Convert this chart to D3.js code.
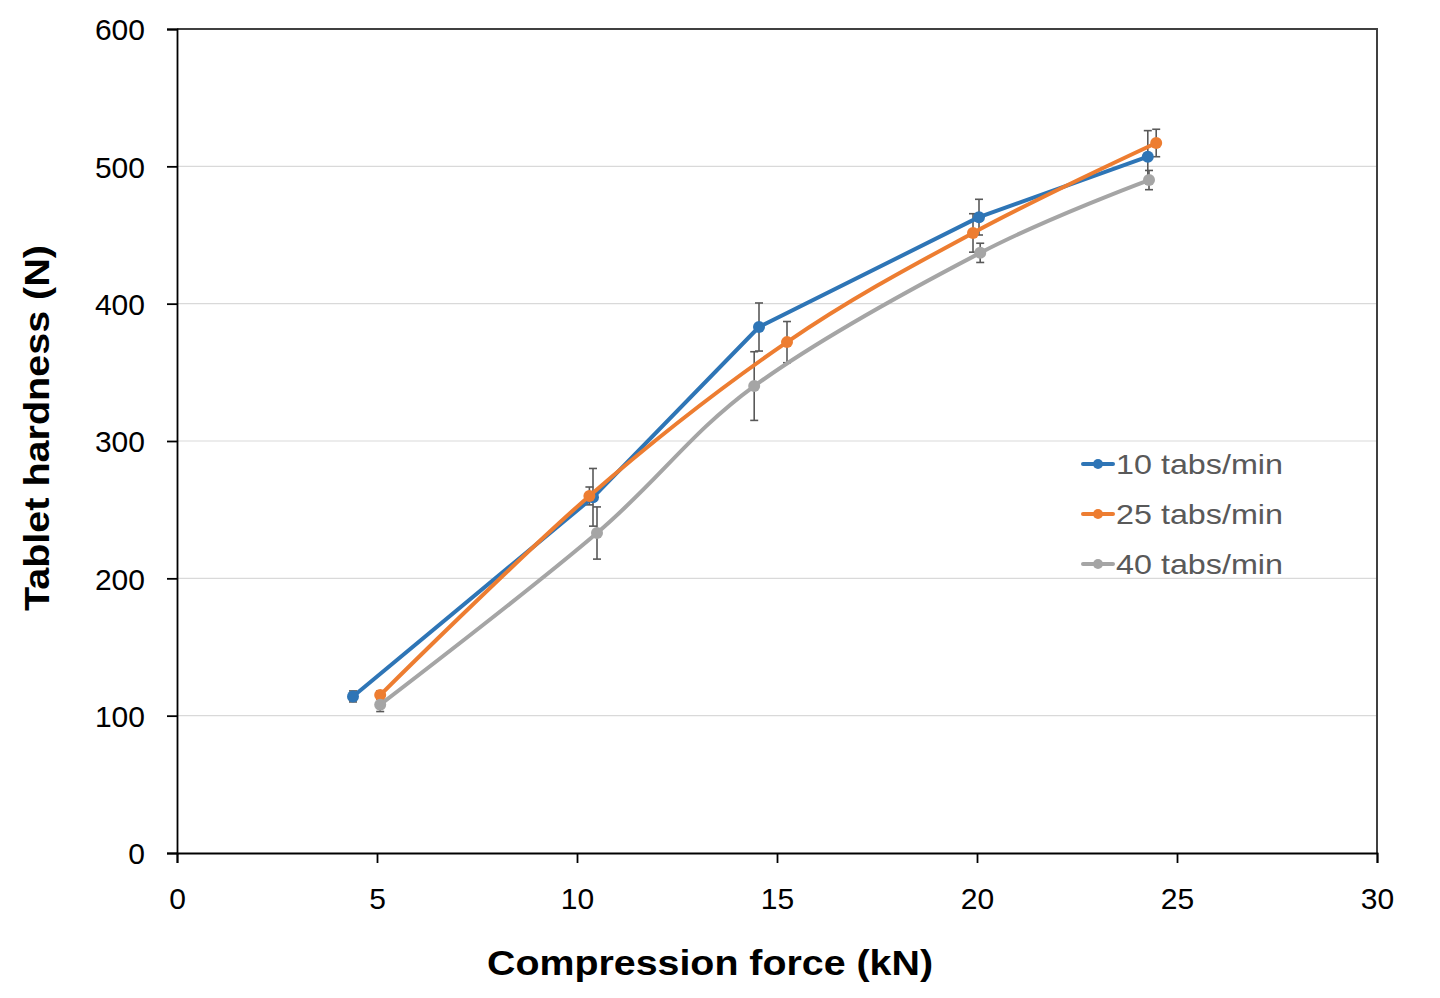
<!DOCTYPE html>
<html>
<head>
<meta charset="utf-8">
<script src="https://cdn.jsdelivr.net/npm/d3@7"></script>
<style>
  html, body { margin: 0; padding: 0; background: #fff; }
  svg { display: block; }
  text { font-family: "Liberation Sans", Arial, sans-serif; }
</style>
</head>
<body>
<svg id="chart" width="1440" height="998"></svg>
<script>
// ---- Data ----
const seriesNames = ["10 tabs/min", "25 tabs/min", "40 tabs/min"];
const seriesColors = ["#2E75B6", "#ED7D31", "#A5A5A5"];
const seriesSmooth = [false, true, true];

const force10 = [4.4, 10.4, 14.55, 20.05, 24.27];
const hard10  = [114, 259, 383, 463, 507];
const err10   = [4, 21, 17.5, 13, 19];

const force25 = [5.08, 10.31, 15.25, 19.9, 24.48];
const hard25  = [115, 260, 372, 451.5, 517];
const err25   = [3, 6.5, 15, 14, 10];

const force40 = [5.08, 10.5, 14.43, 20.08, 24.3];
const hard40  = [108, 233, 340, 437, 490];
const err40   = [5, 19, 25, 7, 7];

const xTicks = [0, 5, 10, 15, 20, 25, 30];
const yTicks = [0, 100, 200, 300, 400, 500, 600];
const xTitle = "Compression force (kN)";
const yTitle = "Tablet hardness (N)";

const seriesData = [
  force10.map((x, i) => ({x, y: hard10[i], e: err10[i]})),
  force25.map((x, i) => ({x, y: hard25[i], e: err25[i]})),
  force40.map((x, i) => ({x, y: hard40[i], e: err40[i]}))
];

// ---- Layout ----
const L = 177, R = 1377, T = 29, B = 853;
const svg = d3.select("#chart");
const x = d3.scaleLinear().domain([0, 30]).range([L, R]);
const y = d3.scaleLinear().domain([0, 600]).range([B, T]);

// gridlines
svg.append("g").selectAll("line")
  .data(yTicks.filter(v => v > 0 && v < 600))
  .join("line")
  .attr("x1", L).attr("x2", R)
  .attr("y1", d => y(d)).attr("y2", d => y(d))
  .attr("stroke", "#d9d9d9").attr("stroke-width", 1.2);

// top and right border
svg.append("path")
  .attr("d", `M${L},${T}H${R}V${B}`)
  .attr("fill", "none").attr("stroke", "#404040").attr("stroke-width", 2);

// x axis
const xAxis = svg.append("g").attr("transform", `translate(0,${B})`)
  .call(d3.axisBottom(x).tickValues(xTicks).tickSize(10).tickPadding(24).tickFormat(d3.format("d")));
// y axis
const yAxis = svg.append("g").attr("transform", `translate(${L},0)`)
  .call(d3.axisLeft(y).tickValues(yTicks).tickSize(10).tickPadding(22).tickFormat(d3.format("d")));

[xAxis, yAxis].forEach(g => {
  g.select(".domain").attr("stroke", "#000").attr("stroke-width", 1.8);
  g.selectAll(".tick line").attr("stroke", "#000").attr("stroke-width", 1.8);
  g.selectAll(".tick text").attr("font-size", 30).attr("fill", "#000")
    .attr("font-family", "'Liberation Sans', Arial, sans-serif");
});
xAxis.selectAll(".tick text").attr("dy", 0).attr("y", 56);
yAxis.selectAll(".tick text").attr("dy", "0.36em").attr("x", -32);

// axis titles
svg.append("text")
  .attr("x", 710).attr("y", 975)
  .attr("text-anchor", "middle").attr("font-weight", "bold")
  .attr("font-size", 35).attr("fill", "#000")
  .attr("textLength", 446).attr("lengthAdjust", "spacingAndGlyphs")
  .text(xTitle);
svg.append("text")
  .attr("transform", `translate(49,428) rotate(-90)`)
  .attr("text-anchor", "middle").attr("font-weight", "bold")
  .attr("font-size", 35).attr("fill", "#000")
  .attr("textLength", 366).attr("lengthAdjust", "spacingAndGlyphs")
  .text(yTitle);

// error bars
const cap = 4;
seriesData.forEach((pts, si) => {
  const g = svg.append("g").attr("stroke", "#595959").attr("stroke-width", 1.6);
  pts.forEach(p => {
    const cx = x(p.x), y1 = y(p.y + p.e), y2 = y(p.y - p.e);
    g.append("line").attr("x1", cx).attr("x2", cx).attr("y1", y1).attr("y2", y2);
    g.append("line").attr("x1", cx - cap).attr("x2", cx + cap).attr("y1", y1).attr("y2", y1);
    g.append("line").attr("x1", cx - cap).attr("x2", cx + cap).attr("y1", y2).attr("y2", y2);
  });
});

// lines and markers
seriesData.forEach((pts, si) => {
  const line = d3.line().x(d => x(d.x)).y(d => y(d.y))
    .curve(seriesSmooth[si] ? d3.curveCardinal.tension(0) : d3.curveLinear);
  svg.append("path").datum(pts)
    .attr("d", line).attr("fill", "none")
    .attr("stroke", seriesColors[si]).attr("stroke-width", 4)
    .attr("stroke-linejoin", "round").attr("stroke-linecap", "round");
  svg.append("g").selectAll("circle").data(pts).join("circle")
    .attr("cx", d => x(d.x)).attr("cy", d => y(d.y)).attr("r", 6)
    .attr("fill", seriesColors[si]);
});

// legend
const legY = [464, 514, 564];
const lg = svg.append("g");
seriesNames.forEach((name, i) => {
  const cy = legY[i];
  lg.append("line").attr("x1", 1083).attr("x2", 1113).attr("y1", cy).attr("y2", cy)
    .attr("stroke", seriesColors[i]).attr("stroke-width", 4).attr("stroke-linecap", "round");
  lg.append("circle").attr("cx", 1098).attr("cy", cy).attr("r", 5).attr("fill", seriesColors[i]);
  lg.append("text").attr("x", 1116).attr("y", cy + 10)
    .attr("font-size", 28).attr("fill", "#595959")
    .attr("textLength", 167).attr("lengthAdjust", "spacingAndGlyphs")
    .text(name);
});
</script>
</body>
</html>
